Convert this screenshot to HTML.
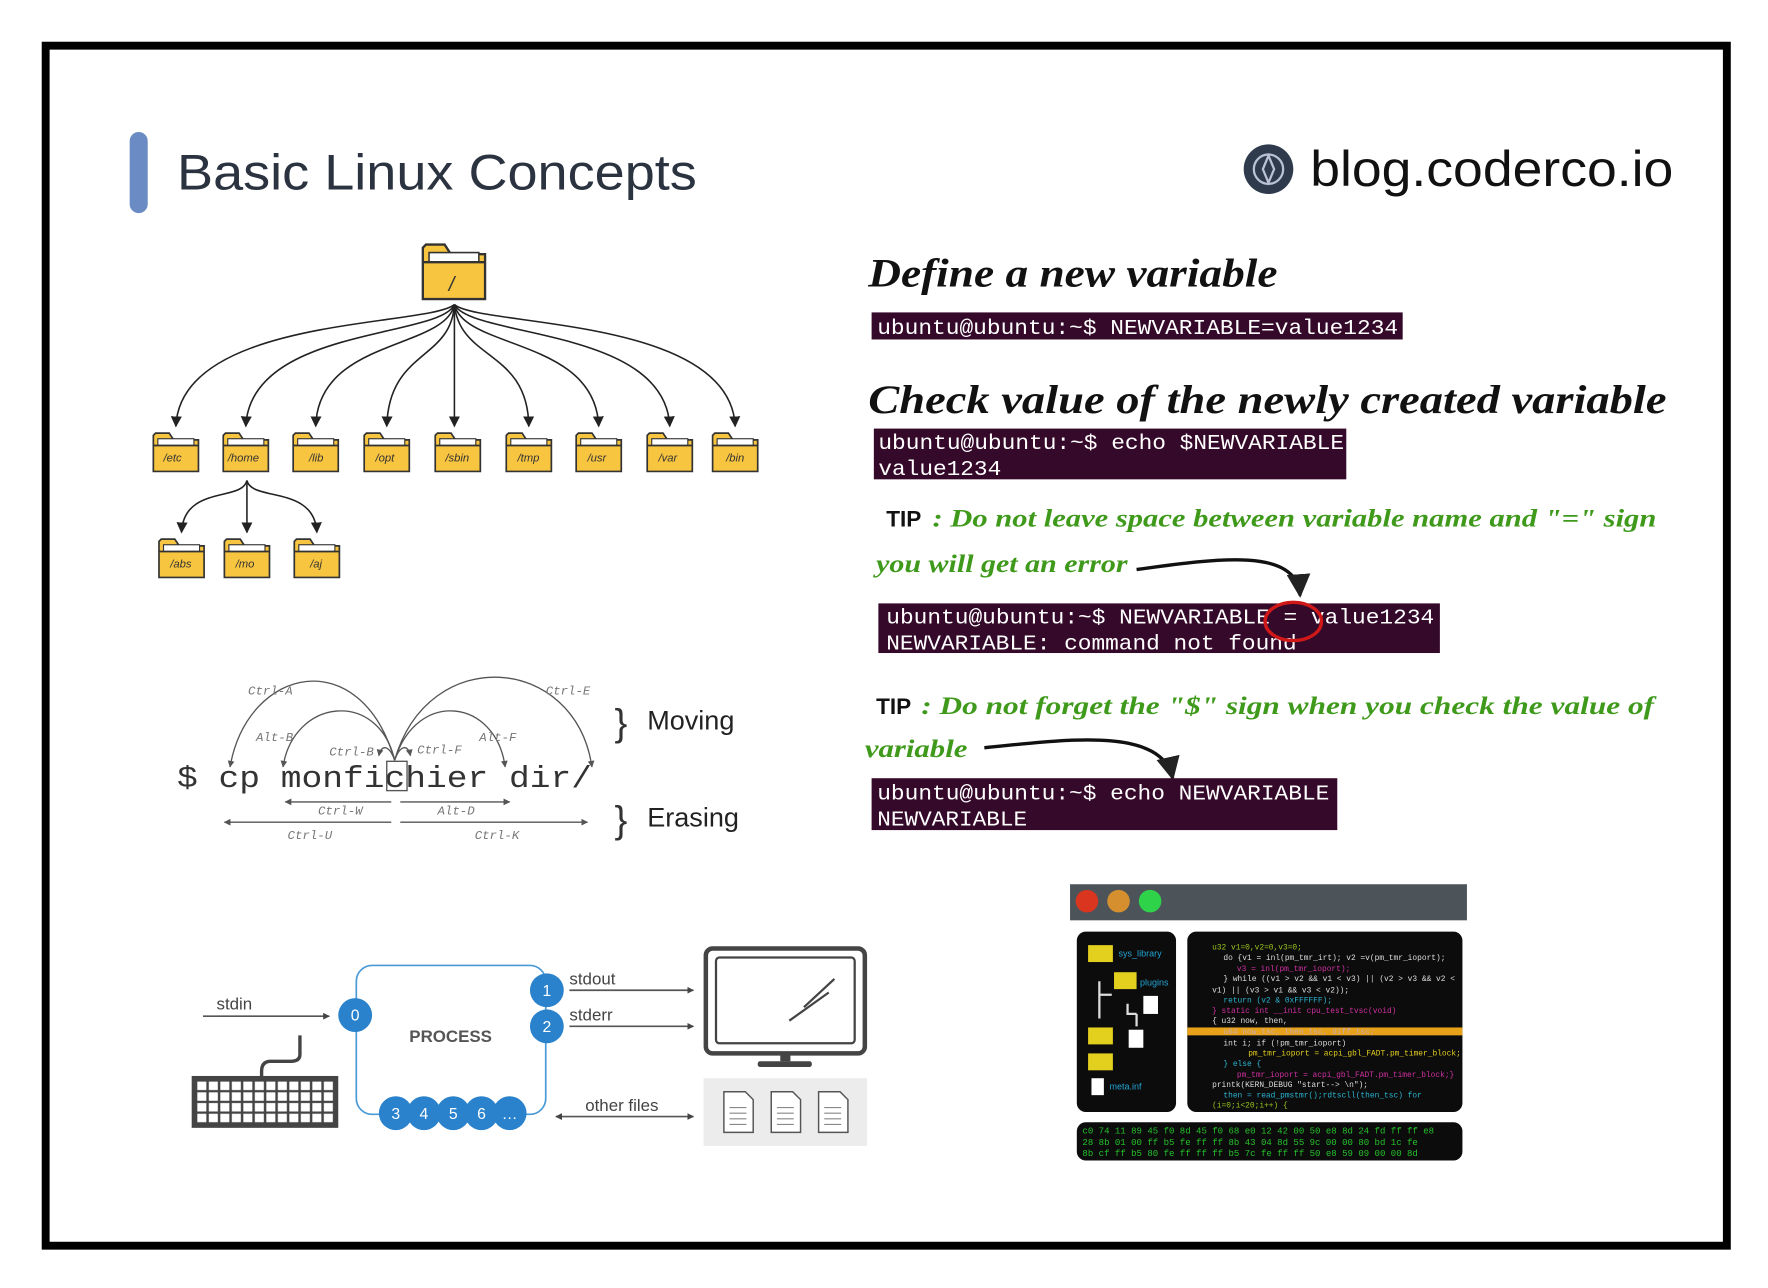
<!DOCTYPE html>
<html><head><meta charset="utf-8"><style>
html,body{margin:0;padding:0;background:#fff;width:1768px;height:1288px;overflow:hidden}
svg{display:block}
.mono{font-family:"Liberation Mono","DejaVu Sans Mono",monospace}
.sans{font-family:"Liberation Sans","DejaVu Sans",sans-serif}
.hand{font-family:"Liberation Serif",serif;font-style:italic;font-weight:bold}
</style></head><body>
<svg width="1768" height="1288" viewBox="0 0 1568 1142" preserveAspectRatio="none" xmlns="http://www.w3.org/2000/svg">
<defs>
<marker id="ah" viewBox="0 0 10 10" refX="9" refY="5" markerWidth="7" markerHeight="7" orient="auto-start-reverse"><path d="M0,0 L10,5 L0,10 z" fill="#222"/></marker>
<marker id="ag" viewBox="0 0 10 10" refX="9" refY="5" markerWidth="5" markerHeight="5" orient="auto-start-reverse"><path d="M0,0 L10,5 L0,10 z" fill="#555"/></marker>
<marker id="ak" viewBox="0 0 10 10" refX="9" refY="5" markerWidth="4" markerHeight="4" orient="auto-start-reverse"><path d="M0,0 L10,5 L0,10 z" fill="#444"/></marker>
<g id="fold">
<path d="M0,4 L0,36 L40,36 L40,8 L18,8 L14,2 L2,2 Z" fill="#f8c540" stroke="#333" stroke-width="1.5"/>
<rect x="4" y="7" width="32" height="6" fill="#fff" stroke="#333" stroke-width="1"/>
<path d="M0,13 L40,13" stroke="#333" stroke-width="1.5"/>
</g>
<pattern id="kg" width="10.2" height="9.5" patternUnits="userSpaceOnUse" x="174" y="958"><rect width="10.2" height="9.5" fill="#444"/><rect x="1" y="1" width="8" height="7.5" fill="#fff"/></pattern>
</defs>
<rect x="0" y="0" width="1568" height="1142" fill="#fff"/>
<rect x="40.5" y="40.5" width="1491" height="1064" fill="none" stroke="#000" stroke-width="7"/>

<!-- header -->
<rect x="115" y="117" width="16" height="72" rx="8" fill="#6a8bc3"/>
<text x="157" y="168" class="sans" font-size="44" fill="#2b3340" textLength="461" lengthAdjust="spacingAndGlyphs">Basic Linux Concepts</text>
<circle cx="1125" cy="150" r="22" fill="#2f3b4c"/>
<circle cx="1125" cy="150" r="13" fill="none" stroke="#b9c3d4" stroke-width="2"/>
<path d="M1125 138 L1130 150 L1125 162 L1120 150 Z" fill="none" stroke="#b9c3d4" stroke-width="2"/>
<text x="1162" y="165" class="sans" font-size="44" fill="#111" textLength="322" lengthAdjust="spacingAndGlyphs">blog.coderco.io</text>

<!-- folder tree -->
<g transform="translate(375,214) scale(1.38,1.42)"><use href="#fold"/></g>
<text x="398" y="258" class="sans" font-size="18" font-style="italic" fill="#333">/</text>
<g fill="none" stroke="#222" stroke-width="1.4" marker-end="url(#ah)">
<path d="M403 270 C 380 290, 160 280, 156 378"/>
<path d="M403 270 C 390 300, 222 290, 218 378"/>
<path d="M403 270 C 395 310, 282 300, 280 378"/>
<path d="M403 270 C 400 320, 345 310, 343 378"/>
<path d="M403 270 L 403 378"/>
<path d="M403 270 C 408 320, 468 310, 469 378"/>
<path d="M403 270 C 412 310, 528 300, 531 378"/>
<path d="M403 270 C 418 300, 590 290, 594 378"/>
<path d="M403 270 C 425 290, 648 280, 652 378"/>
<path d="M219 426 C 215 445, 163 430, 161 472"/>
<path d="M219 426 L 219 472"/>
<path d="M219 426 C 223 445, 279 430, 281 472"/>
</g>
<g class="sans" font-size="10" font-style="italic" fill="#333">
<use href="#fold" x="136" y="382"/><text x="145" y="409">/etc</text>
<use href="#fold" x="198" y="382"/><text x="202" y="409">/home</text>
<use href="#fold" x="260" y="382"/><text x="274" y="409">/lib</text>
<use href="#fold" x="323" y="382"/><text x="333" y="409">/opt</text>
<use href="#fold" x="386" y="382"/><text x="395" y="409">/sbin</text>
<use href="#fold" x="449" y="382"/><text x="459" y="409">/tmp</text>
<use href="#fold" x="511" y="382"/><text x="521" y="409">/usr</text>
<use href="#fold" x="574" y="382"/><text x="584" y="409">/var</text>
<use href="#fold" x="632" y="382"/><text x="644" y="409">/bin</text>
<use href="#fold" x="141" y="476"/><text x="151" y="503">/abs</text>
<use href="#fold" x="199" y="476"/><text x="209" y="503">/mo</text>
<use href="#fold" x="261" y="476"/><text x="275" y="503">/aj</text>
</g>

<!-- moving / erasing -->
<g fill="none" stroke="#555" stroke-width="1.2" marker-end="url(#ag)">
<path d="M350 674 C 320 570, 220 590, 204 680"/>
<path d="M350 674 C 335 610, 260 620, 251 680"/>
<path d="M350 674 C 345 660, 338 660, 336 670"/>
<path d="M350 674 C 355 660, 362 660, 364 670"/>
<path d="M350 674 C 370 610, 440 620, 448 680"/>
<path d="M350 674 C 380 570, 510 580, 525 680"/>
<path d="M347 711 L 253 711"/><path d="M355 711 L 452 711"/>
<path d="M347 729 L 199 729"/><path d="M355 729 L 521 729"/>
</g>
<g class="mono" font-style="italic" font-size="11" fill="#777">
<text x="220" y="616">Ctrl-A</text><text x="484" y="616">Ctrl-E</text>
<text x="227" y="657">Alt-B</text><text x="425" y="657">Alt-F</text>
<text x="292" y="670">Ctrl-B</text><text x="370" y="668">Ctrl-F</text>
<text x="282" y="722">Ctrl-W</text><text x="388" y="722">Alt-D</text>
<text x="255" y="744">Ctrl-U</text><text x="421" y="744">Ctrl-K</text>
</g>
<text x="157" y="698" class="mono" font-size="27" fill="#333" xml:space="preserve" textLength="368" lengthAdjust="spacingAndGlyphs">$ cp monfichier dir/</text>
<rect x="343" y="675" width="18" height="26" fill="none" stroke="#555" stroke-width="1.2"/>
<text x="545" y="652" class="sans" font-size="34" fill="#333">}</text>
<text x="545" y="738" class="sans" font-size="34" fill="#333">}</text>
<text x="574" y="647" class="sans" font-size="24" fill="#222">Moving</text>
<text x="574" y="733" class="sans" font-size="24" fill="#222">Erasing</text>

<!-- right top: variables -->
<text x="770" y="254" class="hand" font-size="36" fill="#111" textLength="363" lengthAdjust="spacingAndGlyphs">Define a new variable</text>
<rect x="773" y="277" width="471" height="24" fill="#35092a"/>
<text x="778" y="296" class="mono" font-size="19" fill="#fff" textLength="462" lengthAdjust="spacingAndGlyphs">ubuntu@ubuntu:~$ NEWVARIABLE=value1234</text>
<text x="770" y="366" class="hand" font-size="36" fill="#111" textLength="708" lengthAdjust="spacingAndGlyphs">Check value of the newly created variable</text>
<rect x="775" y="380" width="419" height="45" fill="#35092a"/>
<text x="779" y="398" class="mono" font-size="19" fill="#fff" textLength="413" lengthAdjust="spacingAndGlyphs">ubuntu@ubuntu:~$ echo $NEWVARIABLE</text>
<text x="779" y="421" class="mono" font-size="19" fill="#fff" textLength="109" lengthAdjust="spacingAndGlyphs">value1234</text>
<text x="786" y="467" class="sans" font-size="20" font-weight="bold" fill="#111">TIP</text>
<text x="827" y="467" class="hand" font-size="22" fill="#3f9a1c" textLength="642" lengthAdjust="spacingAndGlyphs">: Do not leave space between variable name and "=" sign</text>
<text x="777" y="507" class="hand" font-size="22" fill="#3f9a1c" textLength="223" lengthAdjust="spacingAndGlyphs">you will get an error</text>
<path d="M1008 505 C 1080 495, 1150 485, 1153 528" fill="none" stroke="#111" stroke-width="3" marker-end="url(#ah)"/>
<rect x="779" y="535" width="498" height="44" fill="#35092a"/>
<text x="786" y="553" class="mono" font-size="19" fill="#fff" xml:space="preserve" textLength="486" lengthAdjust="spacingAndGlyphs">ubuntu@ubuntu:~$ NEWVARIABLE = value1234</text>
<text x="786" y="576" class="mono" font-size="19" fill="#fff" xml:space="preserve" textLength="364" lengthAdjust="spacingAndGlyphs">NEWVARIABLE: command not found</text>
<ellipse cx="1147" cy="551" rx="25" ry="17" fill="none" stroke="#d01818" stroke-width="3"/>
<text x="777" y="633" class="sans" font-size="20" font-weight="bold" fill="#111">TIP</text>
<text x="817" y="633" class="hand" font-size="22" fill="#3f9a1c" textLength="650" lengthAdjust="spacingAndGlyphs">: Do not forget the "$" sign when you check the value of</text>
<text x="767" y="671" class="hand" font-size="22" fill="#3f9a1c" textLength="91" lengthAdjust="spacingAndGlyphs">variable</text>
<path d="M873 663 C 950 655, 1030 645, 1040 690" fill="none" stroke="#111" stroke-width="3" marker-end="url(#ah)"/>
<rect x="773" y="690" width="413" height="46" fill="#35092a"/>
<text x="778" y="709" class="mono" font-size="19" fill="#fff" textLength="401" lengthAdjust="spacingAndGlyphs">ubuntu@ubuntu:~$ echo NEWVARIABLE</text>
<text x="778" y="732" class="mono" font-size="19" fill="#fff" textLength="133" lengthAdjust="spacingAndGlyphs">NEWVARIABLE</text>

<!-- process diagram -->
<rect x="316" y="856" width="168" height="132" rx="14" fill="none" stroke="#4a9ad6" stroke-width="1.5"/>
<text x="363" y="924" class="sans" font-size="15" font-weight="bold" fill="#555">PROCESS</text>
<g fill="#2a82cc"><circle cx="315" cy="900" r="15"/><circle cx="485" cy="878" r="15"/><circle cx="485" cy="910" r="15"/>
<circle cx="351" cy="987" r="15"/><circle cx="376" cy="987" r="15"/><circle cx="402" cy="987" r="15"/><circle cx="427" cy="987" r="15"/><circle cx="452" cy="987" r="15"/></g>
<g class="sans" font-size="14" fill="#fff" text-anchor="middle">
<text x="315" y="905">0</text><text x="485" y="883">1</text><text x="485" y="915">2</text>
<text x="351" y="992">3</text><text x="376" y="992">4</text><text x="402" y="992">5</text><text x="427" y="992">6</text><text x="452" y="992">…</text></g>
<g stroke="#555" stroke-width="1.5" fill="none" marker-end="url(#ak)">
<path d="M180 901 L 292 901"/><path d="M505 878 L 615 878"/><path d="M505 910 L 615 910"/>
<path d="M615 990 L 493 990" marker-start="url(#ak)"/></g>
<g class="sans" font-size="15" fill="#444"><text x="192" y="895">stdin</text><text x="505" y="873">stdout</text><text x="505" y="905">stderr</text><text x="519" y="985">other files</text></g>
<path d="M266 918 L266 935 Q266 941 258 941 L240 941 Q232 941 232 950 L232 955" stroke="#444" stroke-width="3" fill="none"/>
<rect x="170" y="954" width="130" height="46" fill="#444"/>
<rect x="174" y="958" width="122" height="38" fill="url(#kg)"/>
<rect x="626" y="841" width="141" height="93" rx="6" fill="#fff" stroke="#444" stroke-width="4"/>
<rect x="635" y="849" width="123" height="76" rx="3" fill="none" stroke="#444" stroke-width="2"/>
<path d="M740 868 L713 893 M735 880 L700 905" stroke="#444" stroke-width="2"/>
<rect x="692" y="934" width="9" height="7" fill="#444"/><rect x="672" y="941" width="48" height="5" rx="2" fill="#444"/>
<rect x="624" y="956" width="145" height="60" fill="#ececec"/>
<g fill="#fff" stroke="#555" stroke-width="1.3">
<path d="M642 968 L661 968 L668 975 L668 1004 L642 1004 Z"/><path d="M684 968 L703 968 L710 975 L710 1004 L684 1004 Z"/><path d="M726 968 L745 968 L752 975 L752 1004 L726 1004 Z"/></g>
<g stroke="#888" stroke-width="1"><path d="M647 982h15M647 987h15M647 992h15M647 997h15M689 982h15M689 987h15M689 992h15M689 997h15M731 982h15M731 987h15M731 992h15M731 997h15"/></g>

<!-- code window -->
<rect x="949" y="784" width="352" height="32" fill="#4c545a"/>
<circle cx="964" cy="799" r="10" fill="#d9351f"/><circle cx="992" cy="799" r="10" fill="#d58f2e"/><circle cx="1020" cy="799" r="10" fill="#2ed34a"/>
<rect x="955" y="826" width="88" height="160" rx="8" fill="#0c0c0c"/>
<rect x="1053" y="826" width="244" height="160" rx="8" fill="#0c0c0c"/>
<rect x="955" y="995" width="342" height="34" rx="8" fill="#0c0c0c"/>
<g fill="#e3cf1e"><rect x="965" y="838" width="22" height="15"/><rect x="988" y="862" width="20" height="15"/><rect x="965" y="911" width="22" height="15"/><rect x="965" y="934" width="22" height="15"/></g>
<g fill="#fff"><rect x="1014" y="883" width="13" height="16"/><rect x="1001" y="913" width="13" height="16"/><rect x="968" y="956" width="11" height="15"/></g>
<path d="M975 870 L975 903 M975 882 L986 882 M1000 890 L1000 899 L1008 899 M1008 899 L1008 910" stroke="#ddd" stroke-width="2" fill="none"/>
<g class="sans" font-size="8" fill="#23a6d5"><text x="992" y="848">sys_library</text><text x="1011" y="874">plugins</text><text x="984" y="966">meta.inf</text></g>
<rect x="1053" y="911" width="244" height="7" fill="#e8a21a"/>
<g class="mono" font-size="7" fill="#ddd">
<text x="1075" y="842" fill="#9ac31c">u32 v1=0,v2=0,v3=0;</text>
<text x="1085" y="851">do {v1 = inl(pm_tmr_irt); v2 =v(pm_tmr_ioport);</text>
<text x="1097" y="861" fill="#d030a0">v3 = inl(pm_tmr_ioport);</text>
<text x="1085" y="870">} while ((v1 &gt; v2 &amp;&amp; v1 &lt; v3) || (v2 &gt; v3 &amp;&amp; v2 &lt;</text>
<text x="1075" y="880">v1) || (v3 &gt; v1 &amp;&amp; v3 &lt; v2));</text>
<text x="1085" y="889" fill="#2ab4d0">return (v2 &amp; 0xFFFFFF);</text>
<text x="1075" y="898" fill="#d030a0">}  static int __init cpu_test_tvsc(void)</text>
<text x="1075" y="907">{ u32 now, then,</text>
<text x="1085" y="917" fill="#caa">u64 now_tsc, then_tsc, diff_tsc;</text>
<text x="1085" y="927">int i; if (!pm_tmr_ioport)</text>
<text x="1107" y="936" fill="#e3cf1e">pm_tmr_ioport = acpi_gbl_FADT.pm_timer_block;</text>
<text x="1085" y="945" fill="#2ab4d0">} else {</text>
<text x="1097" y="955" fill="#d030a0">pm_tmr_ioport = acpi_gbl_FADT.pm_timer_block;}</text>
<text x="1075" y="964">printk(KERN_DEBUG "start--&gt; \n");</text>
<text x="1085" y="973" fill="#2ab4d0">then = read_pmstmr();rdtscll(then_tsc) for</text>
<text x="1075" y="982" fill="#9ac31c">(i=0;i&lt;20;i++) {</text>
</g>
<g class="mono" font-size="8" fill="#25c02a">
<text x="960" y="1005">c0 74 11 89 45 f0 8d 45 f0 68 e0 12 42 00 50 e8 8d 24 fd ff ff e8</text>
<text x="960" y="1015">28 8b 01 00 ff b5    fe ff ff 8b 43 04 8d 55 9c 00 00 80 bd 1c fe</text>
<text x="960" y="1025">8b cf ff b5 80 fe ff ff ff b5 7c fe ff ff 50 e8  59 09 00 00 8d</text>
</g>
</svg>
</body></html>
